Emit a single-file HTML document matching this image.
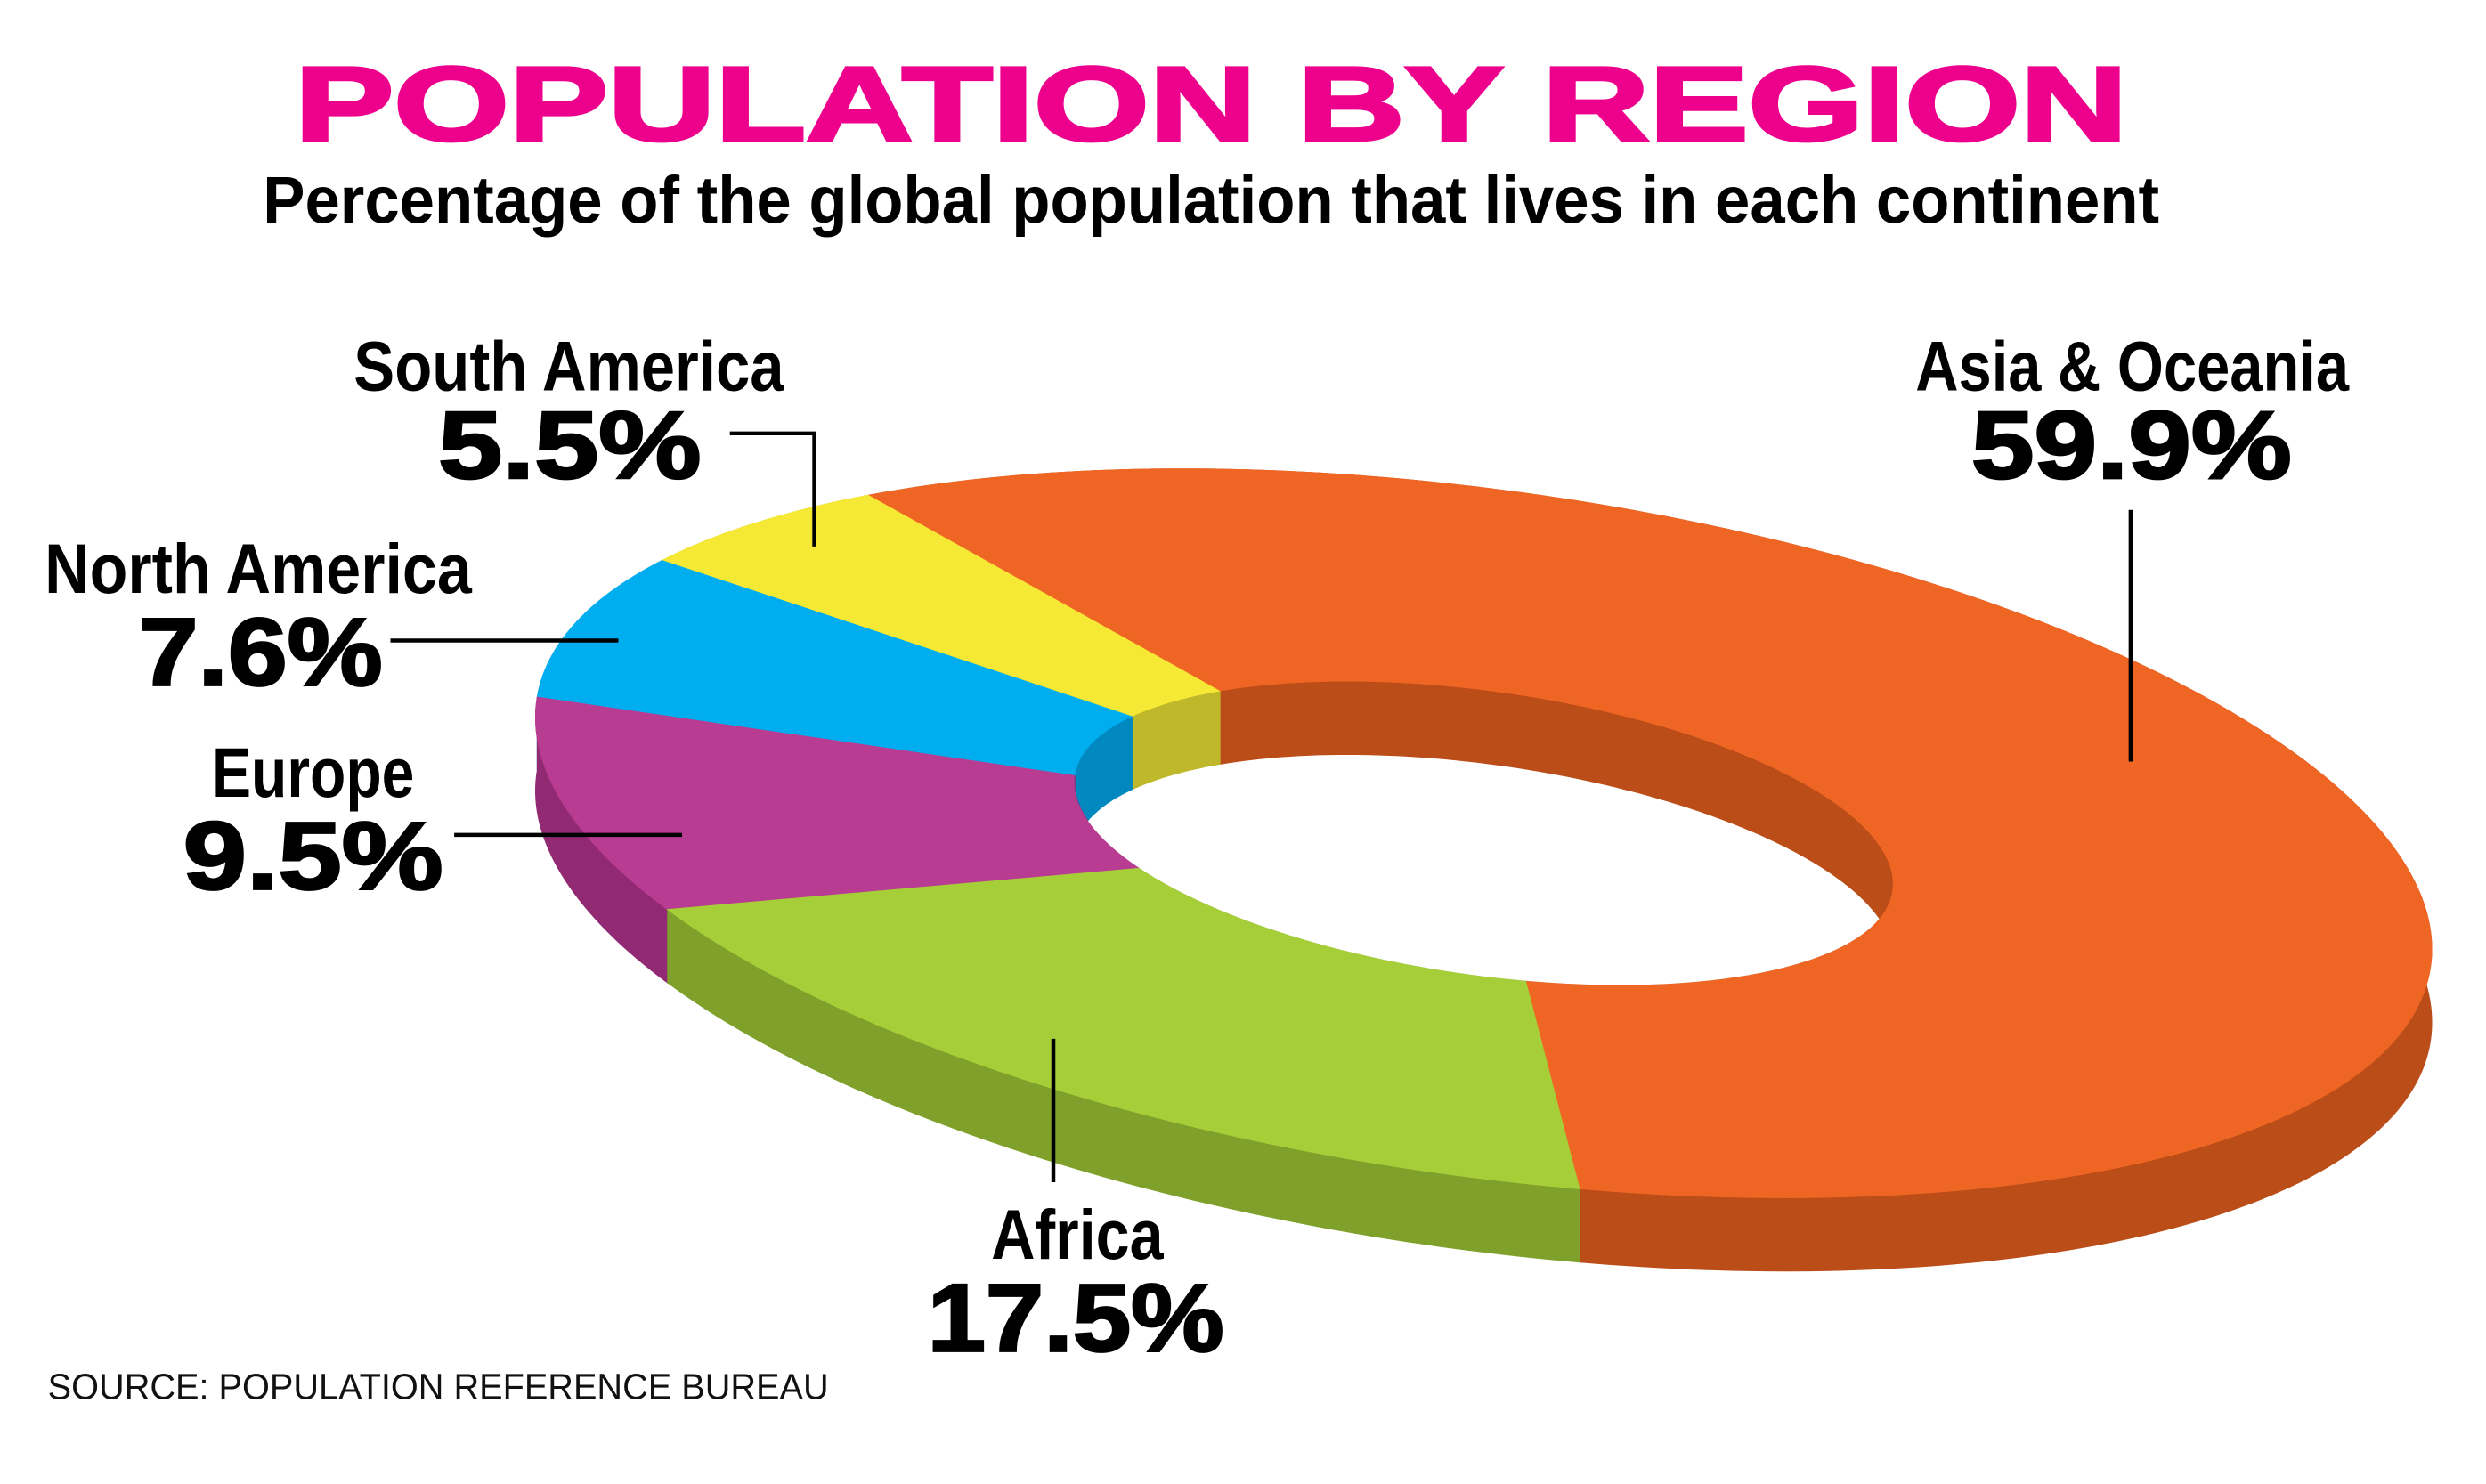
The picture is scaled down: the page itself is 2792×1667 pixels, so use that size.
<!DOCTYPE html>
<html><head><meta charset="utf-8"><style>
html,body{margin:0;padding:0;background:#fff;}
svg{display:block;}
.lab{font-family:"Liberation Sans",sans-serif;font-weight:bold;fill:#000;}
</style></head><body>
<svg id="s" width="2792" height="1667" viewBox="0 0 1560 931.4" preserveAspectRatio="none" xmlns="http://www.w3.org/2000/svg">
<g id="chart"></g>
<text x="185" y="88" textLength="1150" lengthAdjust="spacingAndGlyphs" style="font-family:'Liberation Sans',sans-serif;font-weight:900;font-size:66px;fill:#EC008C;stroke:#EC008C;stroke-width:2">POPULATION BY REGION</text>
<text x="165" y="140" textLength="1190" lengthAdjust="spacingAndGlyphs" class="lab" style="font-size:42px">Percentage of the global population that lives in each continent</text>
<text x="222" y="245" textLength="270" lengthAdjust="spacingAndGlyphs" class="lab" style="font-size:44px">South America</text>
<text x="275" y="300" textLength="165" lengthAdjust="spacingAndGlyphs" class="lab" style="font-size:60px;stroke:#000;stroke-width:1.5">5.5%</text>
<text x="28" y="372" textLength="268" lengthAdjust="spacingAndGlyphs" class="lab" style="font-size:44px">North America</text>
<text x="87" y="430" textLength="153" lengthAdjust="spacingAndGlyphs" class="lab" style="font-size:60px;stroke:#000;stroke-width:1.5">7.6%</text>
<text x="133" y="500" textLength="127" lengthAdjust="spacingAndGlyphs" class="lab" style="font-size:44px">Europe</text>
<text x="115" y="558" textLength="163" lengthAdjust="spacingAndGlyphs" class="lab" style="font-size:60px;stroke:#000;stroke-width:1.5">9.5%</text>
<text x="622" y="790" textLength="108" lengthAdjust="spacingAndGlyphs" class="lab" style="font-size:44px">Africa</text>
<text x="582" y="848" textLength="186" lengthAdjust="spacingAndGlyphs" class="lab" style="font-size:60px;stroke:#000;stroke-width:1.5">17.5%</text>
<text x="1202" y="245" textLength="272" lengthAdjust="spacingAndGlyphs" class="lab" style="font-size:44px">Asia &amp; Oceania</text>
<text x="1237" y="300" textLength="201" lengthAdjust="spacingAndGlyphs" class="lab" style="font-size:60px;stroke:#000;stroke-width:1.5">59.9%</text>
<text x="30" y="878" textLength="490" lengthAdjust="spacingAndGlyphs" style="font-family:'Liberation Sans',sans-serif;font-size:23px;fill:#111">SOURCE: POPULATION REFERENCE BUREAU</text>
<g stroke="#000" stroke-width="2.5" fill="none">
<polyline points="458,272 511,272 511,343"/>
<line x1="245" y1="402" x2="388" y2="402"/>
<line x1="285" y1="524" x2="428" y2="524"/>
<line x1="661" y1="652" x2="661" y2="742"/>
<line x1="1337" y1="320" x2="1337" y2="478"/>
</g>
</svg>
<script>
(function(){
var cx=931,cy=523,R=8*Math.PI/180,c=Math.cos(R),s=Math.sin(R),D=46;
var O={rx:600,ry:215},I={rx:259,ry:89};
function pt(e,t,dy){var x=e.rx*Math.cos(t),y=e.ry*Math.sin(t);return [cx+x*c-y*s,cy+x*s+y*c+(dy||0)];}
function ang(e,p){var x=p[0]-cx,y=p[1]-cy;var u=x*c+y*s,v=-x*s+y*c;return Math.atan2(v/e.ry,u/e.rx);}
var B=[[[545,311],[762,432]],[[410,350],[705,448]],[[333,437],[675,487]],[[428,570],[715,545]],[[990,742],[958,618]]];
var bo=B.map(function(b){return ang(O,b[0]);}), bi=B.map(function(b){return ang(I,b[1]);});
var sl=[
 {a:0,b:4,f:"#EF6624",d:"#BA4D18"},
 {a:1,b:0,f:"#F5E935",d:"#BFB82A"},
 {a:2,b:1,f:"#00AEEF",d:"#0088BF"},
 {a:3,b:2,f:"#B83D92",d:"#912A72"},
 {a:4,b:3,f:"#A6CE39",d:"#7FA02A"}];
function arc(e,t1,t2,dy){
 while(t2<t1)t2+=2*Math.PI; var n=Math.max(4,Math.ceil((t2-t1)*60)),r=[];
 for(var k=0;k<=n;k++)r.push(pt(e,t1+(t2-t1)*k/n,dy));return r;}
function P(a){return a.map(function(p){return p[0].toFixed(2)+","+p[1].toFixed(2);}).join(" ");}
var g=document.getElementById("chart"),h="";
h+='<defs><clipPath id="hc"><polygon points="'+P(arc(I,0,2*Math.PI-0.0001))+'"/></clipPath></defs>';
sl.forEach(function(q){var a=arc(O,bo[q.a],bo[q.b],0),b=arc(O,bo[q.a],bo[q.b],D).reverse();
 h+='<polygon fill="'+q.d+'" stroke="'+q.d+'" stroke-width="0.6" points="'+P(a.concat(b))+'"/>';});
sl.forEach(function(q){var a=arc(O,bo[q.a],bo[q.b],0),b=arc(I,bi[q.a],bi[q.b],0).reverse();
 h+='<polygon fill="'+q.f+'" stroke="'+q.f+'" stroke-width="0.6" points="'+P(a.concat(b))+'"/>';});
h+='<g clip-path="url(#hc)">';
sl.forEach(function(q){var a=arc(I,bi[q.a],bi[q.b],0),b=arc(I,bi[q.a],bi[q.b],D).reverse();
 h+='<polygon fill="'+q.d+'" stroke="'+q.d+'" stroke-width="0.6" points="'+P(a.concat(b))+'"/>';});
h+='<polygon fill="#fff" points="'+P(arc(I,0,2*Math.PI-0.0001,D))+'"/></g>';
g.innerHTML=h;
var svg=document.getElementById("s");svg.innerHTML=svg.innerHTML;
})();
</script>
</body></html>
